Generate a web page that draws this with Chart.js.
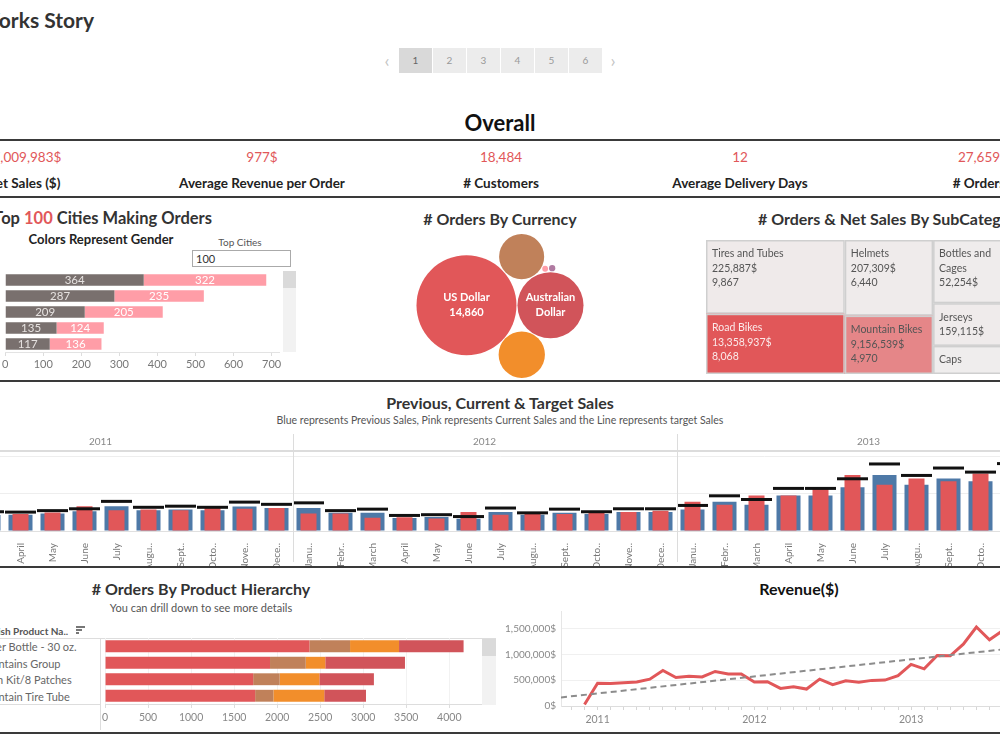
<!DOCTYPE html>
<html>
<head>
<meta charset="utf-8">
<title>AdventureWorks Story</title>
<script src="https://cdn.jsdelivr.net/npm/chart.js@4.4.1/dist/chart.umd.min.js"></script>
<style>
  html, body { margin: 0; padding: 0; width: 1000px; height: 750px; overflow: hidden; background: #fff; }
  body { position: relative; font-family: Lato, 'Open Sans', sans-serif; color: #333; }
  .a { position: absolute; white-space: nowrap; }
  .c { transform: translate(-50%, -50%); }
  .m { transform: translateY(-50%); }
  .ttl { font-weight: 700; font-size: 16px; color: #333; }
  .rule { position: absolute; left: 0; width: 1000px; height: 2px; background: #3a3a3a; }
  .page { position: absolute; top: 48px; width: 33px; height: 25px; background: #ececec; color: #999; font-size: 10px; line-height: 25px; text-align: center; }
  .kv { font-size: 13.5px; color: #e15759; }
  .kl { font-size: 13.5px; font-weight: 700; color: #222; }
  .sub { font-size: 10.5px; color: #555; }
  .rowlbl { font-size: 11px; color: #666; }
  .box { position: absolute; }
  canvas { position: absolute; }
</style>
</head>
<body>

<div class="a m" style="right:906px;top:19px;font-size:21px;font-weight:700;color:#333">AdventureWorks Story</div>
<div class="a c" style="left:387px;top:60px;font-size:18px;color:#c4c4c4">&lsaquo;</div>
<div class="page" style="left:399px;background:#d9d9d9;color:#666">1</div>
<div class="page" style="left:433px">2</div>
<div class="page" style="left:467px">3</div>
<div class="page" style="left:501px">4</div>
<div class="page" style="left:535px">5</div>
<div class="page" style="left:569px">6</div>
<div class="a c" style="left:613px;top:60px;font-size:18px;color:#c4c4c4">&rsaquo;</div>

<div class="a c" style="left:500px;top:122px;font-size:22px;font-weight:700;color:#111">Overall</div>
<div class="rule" style="top:139px"></div>
<div id="kpis"></div>
<div class="rule" style="top:196px"></div>

<!-- top row -->
<div class="a m ttl" style="right:788px;top:218px;font-size:16.5px">Top <span style="color:#e15759">100</span> Cities Making Orders</div>
<div class="a c" style="left:101px;top:239px;font-size:13px;font-weight:700;color:#222">Colors Represent Gender</div>
<div class="a c" style="left:240px;top:242px;font-size:10px;color:#555">Top Cities</div>
<div class="box" style="left:192px;top:250px;width:94px;height:15px;border:1px solid #aaa;font-size:11px;line-height:15px;padding-left:3px;color:#333">100</div>
<div class="box" style="left:283px;top:271px;width:13px;height:81px;background:#f2f2f2"></div>
<div class="box" style="left:283px;top:271px;width:13px;height:17px;background:#dadada"></div>
<canvas id="cities" width="283" height="100" style="left:0;top:272px"></canvas>

<div class="a c ttl" style="left:500px;top:218px"># Orders By Currency</div>
<canvas id="currency" width="200" height="150" style="left:400px;top:231px"></canvas>

<div class="a m ttl" style="left:758px;top:218px"># Orders &amp; Net Sales By SubCategory</div>
<canvas id="subcat" width="308" height="134" style="left:706px;top:240px"></canvas>

<div class="rule" style="top:380px"></div>

<!-- middle row -->
<div class="a c ttl" style="left:500px;top:402px">Previous, Current &amp; Target Sales</div>
<div class="a c sub" style="left:500px;top:420px">Blue represents Previous Sales, Pink represents Current Sales and the Line represents target Sales</div>
<canvas id="sales" width="1093" height="136" style="left:-46px;top:430px"></canvas>

<div class="rule" style="top:566px"></div>

<!-- bottom row -->
<div class="a c ttl" style="left:201px;top:588px"># Orders By Product Hierarchy</div>
<div class="a c" style="left:201px;top:607px;font-size:11px;color:#555">You can drill down to see more details</div>
<div class="a m" style="left:-21px;top:631px;font-size:10px;font-weight:700;color:#555">English Product Na..</div>
<div class="box" style="left:76px;top:626px;width:9px;height:1.5px;background:#777"></div>
<div class="box" style="left:76px;top:629px;width:6px;height:1.5px;background:#777"></div>
<div class="box" style="left:76px;top:632px;width:3px;height:1.5px;background:#777"></div>
<div class="box" style="left:0;top:638px;width:496px;height:1px;background:#ddd"></div>
<div class="box" style="left:0;top:704px;width:100px;height:1px;background:#ddd"></div>
<div class="box" style="left:100px;top:638px;width:1px;height:92px;background:#ddd"></div>
<div class="box" style="left:482px;top:639px;width:14px;height:66px;background:#f2f2f2"></div>
<div class="box" style="left:482px;top:639px;width:14px;height:17px;background:#dadada"></div>
<div id="prodLabels"></div>
<canvas id="product" width="383" height="88" style="left:99px;top:638px"></canvas>

<div class="a c" style="left:799px;top:588px;font-size:16px;font-weight:700;color:#111">Revenue($)</div>
<canvas id="revenue" width="560" height="128" style="left:500px;top:600px"></canvas>

<div class="rule" style="top:732px"></div>

<script>
Chart.defaults.font.family = "Lato, 'Open Sans', sans-serif";
Chart.defaults.animation = false;
Chart.defaults.responsive = false;
Chart.defaults.plugins.legend.display = false;
Chart.defaults.plugins.tooltip.enabled = false;

// ---- data ----
const kpiNames = ['Net Sales ($)', 'Average Revenue per Order', '# Customers', 'Average Delivery Days', '# Orders'];
const kpiValues = ['27,009,983$', '977$', '18,484', '12', '27,659'];

const cityNames = ['London', 'Paris', 'Bellflower', 'Burien', 'Concord'];
const maleOrders = [364, 287, 209, 135, 117];
const femaleOrders = [322, 235, 205, 124, 136];

const currencies = ['US Dollar', 'Australian Dollar', 'EURO', 'United Kingdom Pound', 'Canadian Dollar', 'Deutsche Mark'];
const currencyOrders = [14860, 6480, 3020, 3190, 50, 59];

const subcategories = ['Tires and Tubes', 'Road Bikes', 'Helmets', 'Mountain Bikes', 'Bottles and Cages', 'Jerseys', 'Caps'];
const subcatSales = [225887, 13358937, 207309, 9156539, 52254, 159115, 18113];
const subcatOrders = [9867, 8068, 6440, 4970, 4930, 3332, 2190];
const subcatColumn = [0, 0, 1, 1, 2, 2, 2];

const salesPeriods = [
  '2011-03', '2011-04', '2011-05', '2011-06', '2011-07', '2011-08', '2011-09', '2011-10', '2011-11', '2011-12',
  '2012-01', '2012-02', '2012-03', '2012-04', '2012-05', '2012-06', '2012-07', '2012-08', '2012-09', '2012-10', '2012-11', '2012-12',
  '2013-01', '2013-02', '2013-03', '2013-04', '2013-05', '2013-06', '2013-07', '2013-08', '2013-09', '2013-10', '2013-11'
];
const previousSales = [
  430000, 440000, 470000, 530000, 670000, 560000, 580000, 560000, 660000, 620000,
  620000, 490000, 490000, 350000, 380000, 330000, 510000, 440000, 490000, 460000, 510000, 510000,
  580000, 790000, 710000, 960000, 960000, 1180000, 1510000, 1250000, 1420000, 1340000, 1550000
];
const currentSales = [
  450000, 460000, 500000, 670000, 560000, 580000, 560000, 630000, 600000, 620000,
  470000, 470000, 360000, 370000, 340000, 510000, 440000, 480000, 460000, 510000, 510000, 550000,
  790000, 710000, 960000, 960000, 1150000, 1510000, 1250000, 1420000, 1340000, 1550000, 1700000
];
const targetSales = [
  520000, 510000, 550000, 600000, 800000, 640000, 670000, 640000, 780000, 720000,
  760000, 550000, 590000, 420000, 440000, 390000, 620000, 490000, 590000, 520000, 600000, 600000,
  690000, 950000, 850000, 1150000, 1150000, 1410000, 1810000, 1500000, 1700000, 1590000, 1820000
];
const monthNames = ['January', 'February', 'March', 'April', 'May', 'June', 'July', 'August', 'September', 'October', 'November', 'December'];

const productNames = ['Water Bottle - 30 oz.', 'Mountains Group', 'Patch Kit/8 Patches', 'Mountain Tire Tube'];
const prodUSD = [2375, 1917, 1721, 1744];
const prodEUR = [472, 415, 308, 212];
const prodGBP = [569, 227, 461, 591];
const prodAUD = [750, 926, 634, 485];

const revenueMonths = [
  '2010-12',
  '2011-01', '2011-02', '2011-03', '2011-04', '2011-05', '2011-06', '2011-07', '2011-08', '2011-09', '2011-10', '2011-11', '2011-12',
  '2012-01', '2012-02', '2012-03', '2012-04', '2012-05', '2012-06', '2012-07', '2012-08', '2012-09', '2012-10', '2012-11', '2012-12',
  '2013-01', '2013-02', '2013-03', '2013-04', '2013-05', '2013-06', '2013-07', '2013-08', '2013-09', '2013-10'
];
const revenueValues = [
  30000,
  440000, 434000, 452000, 465000, 520000, 688000, 551000, 576000, 564000, 669000, 620000, 620000,
  465000, 471000, 341000, 372000, 328000, 520000, 415000, 489000, 458000, 496000, 502000, 589000,
  805000, 719000, 979000, 973000, 1196000, 1530000, 1283000, 1456000, 1340000, 1550000
];

// ---- colours ----
const red = '#e15759';
const currencyColors = ['#e15759', '#d1545a', '#c0815a', '#f28e2b', '#ff9da7', '#b07aa1'];

const fmt = v => v.toLocaleString('en-US');

// fixed-step ticks from 0 (chart.js snaps big ranges to max/n otherwise)
const stepTicks = step => s => {
  const t = [];
  for (let v = 0; v <= s.max + 1e-9; v += step) t.push({ value: v });
  s.ticks = t;
};

// ---- KPI row ----
const kpiBox = document.getElementById('kpis');
kpiNames.forEach((name, i) => {
  const cx = 23 + i * 239;
  kpiBox.insertAdjacentHTML('beforeend',
    `<div class="a c kv" style="left:${cx}px;top:157px">${kpiValues[i]}</div>` +
    `<div class="a c kl" style="left:${cx}px;top:183px">${name}</div>`);
});

// ---- Top cities ----
const barLabels = {
  id: 'barLabels',
  afterDatasetsDraw(chart) {
    const ctx = chart.ctx;
    ctx.save();
    ctx.font = '11.5px Lato';
    ctx.textAlign = 'center';
    ctx.textBaseline = 'middle';
    chart.data.datasets.forEach((ds, d) => {
      chart.getDatasetMeta(d).data.forEach((el, i) => {
        ctx.fillStyle = d === 0 ? '#e6e2e0' : '#ffffff';
        ctx.fillText(ds.data[i], (el.x + el.base) / 2, el.y + 0.5);
      });
    });
    ctx.restore();
  }
};

new Chart(document.getElementById('cities'), {
  type: 'bar',
  data: {
    labels: cityNames,
    datasets: [
      { label: 'Male', data: maleOrders, backgroundColor: '#79706e' },
      { label: 'Female', data: femaleOrders, backgroundColor: '#ff9da7' }
    ]
  },
  options: {
    indexAxis: 'y',
    layout: { padding: 0 },
    datasets: { bar: { barPercentage: 0.72, categoryPercentage: 1 } },
    scales: {
      x: {
        stacked: true, min: 0, max: 720,
        afterFit: s => { s.height = 20; },
        afterBuildTicks: stepTicks(100),
        ticks: { color: '#777', font: { size: 11 }, padding: 2 },
        grid: { drawOnChartArea: false, tickLength: 4, color: '#ddd' },
        border: { color: '#e3e3e3' }
      },
      y: { stacked: true, display: false }
    }
  },
  plugins: [barLabels]
});

// ---- Currency bubbles (packed) ----
const bubbleR = currencyOrders.map(v => 50 * Math.sqrt(v / currencyOrders[0]));

function tangent(a, b, r, away) {
  const gap = 1;
  const dx = b.x - a.x, dy = b.y - a.y, d = Math.hypot(dx, dy);
  const ra = a.r + r + gap, rb = b.r + r + gap;
  const l = (ra * ra - rb * rb + d * d) / (2 * d);
  const h = Math.sqrt(Math.max(ra * ra - l * l, 0));
  const ux = dx / d, uy = dy / d;
  const p1 = { x: a.x + ux * l - uy * h, y: a.y + uy * l + ux * h, r };
  const p2 = { x: a.x + ux * l + uy * h, y: a.y + uy * l - ux * h, r };
  const d1 = Math.hypot(p1.x - away.x, p1.y - away.y);
  const d2 = Math.hypot(p2.x - away.x, p2.y - away.y);
  return d1 > d2 ? p1 : p2;
}

const packed = [];
packed[0] = { x: 0, y: 0, r: bubbleR[0] };
packed[1] = { x: bubbleR[0] + bubbleR[1] + 1, y: 0, r: bubbleR[1] };
packed[2] = tangent(packed[0], packed[1], bubbleR[2], { x: 0, y: -1000 });
packed[3] = tangent(packed[0], packed[1], bubbleR[3], { x: 0, y: 1000 });
packed[4] = tangent(packed[2], packed[1], bubbleR[4], packed[0]);
packed[5] = tangent(packed[4], packed[1], bubbleR[5], packed[2]);
const bx0 = Math.min(...packed.map(p => p.x - p.r)), bx1 = Math.max(...packed.map(p => p.x + p.r));
const by0 = Math.min(...packed.map(p => p.y - p.r)), by1 = Math.max(...packed.map(p => p.y + p.r));
const bubblePoints = packed.map(p => ({ x: p.x - (bx0 + bx1) / 2, y: p.y - (by0 + by1) / 2, r: p.r }));

const bubbleLabels = {
  id: 'bubbleLabels',
  afterDatasetsDraw(chart) {
    const ctx = chart.ctx;
    ctx.save();
    ctx.font = 'bold 11px Lato';
    ctx.fillStyle = '#fff';
    ctx.textAlign = 'center';
    ctx.textBaseline = 'middle';
    chart.getDatasetMeta(0).data.forEach((el, i) => {
      let lines = [];
      if (bubbleR[i] > 40) lines = [currencies[i], fmt(currencyOrders[i])];
      else if (bubbleR[i] > 30) lines = currencies[i].split(' ');
      lines.forEach((t, k) => ctx.fillText(t, el.x, el.y + (k - (lines.length - 1) / 2) * 15));
    });
    ctx.restore();
  }
};

new Chart(document.getElementById('currency'), {
  type: 'bubble',
  data: {
    datasets: [{
      label: '# Orders',
      data: bubblePoints,
      backgroundColor: currencyColors,
      borderWidth: 0,
      clip: false
    }]
  },
  options: {
    layout: { padding: 0, autoPadding: false },
    scales: {
      x: { display: false, min: -100, max: 100 },
      y: { display: false, min: -75, max: 75 }
    }
  },
  plugins: [bubbleLabels]
});

// ---- SubCategory treemap ----
function wrapText(ctx, text, maxW) {
  const words = text.split(' ');
  const lines = [];
  let cur = '';
  words.forEach(w => {
    const t = cur ? cur + ' ' + w : w;
    if (cur && ctx.measureText(t).width > maxW) { lines.push(cur); cur = w; } else { cur = t; }
  });
  if (cur) lines.push(cur);
  return lines;
}

const treemapDraw = {
  id: 'treemapDraw',
  afterDraw(chart) {
    const { ctx, scales: { x, y } } = chart;
    const maxSales = Math.max(...subcatSales);
    const lo = [239, 237, 237], hi = [225, 87, 89];
    const cols = [];
    subcategories.forEach((n, i) => { (cols[subcatColumn[i]] = cols[subcatColumn[i]] || []).push(i); });
    ctx.save();
    ctx.font = '10.5px Lato';
    let x0 = 0;
    cols.forEach(idx => {
      const colSum = idx.reduce((s, i) => s + subcatOrders[i], 0);
      let y0 = 0;
      idx.forEach(i => {
        const frac = subcatOrders[i] / colSum;
        const left = x.getPixelForValue(x0), right = x.getPixelForValue(x0 + colSum);
        const top = y.getPixelForValue(y0), bottom = y.getPixelForValue(y0 + frac);
        const t = subcatSales[i] / maxSales;
        const rgb = lo.map((c, k) => Math.round(c + (hi[k] - c) * t));
        ctx.fillStyle = `rgb(${rgb.join(',')})`;
        ctx.fillRect(left, top, right - left, bottom - top);
        ctx.strokeStyle = '#cfcfcf';
        ctx.lineWidth = 1.5;
        ctx.strokeRect(left + 0.75, top + 0.75, right - left - 1.5, bottom - top - 1.5);
        const lines = wrapText(ctx, subcategories[i], right - left - 12)
          .concat([fmt(subcatSales[i]) + '$', fmt(subcatOrders[i])]);
        ctx.fillStyle = t > 0.8 ? '#fbeaea' : '#555';
        ctx.textBaseline = 'middle';
        lines.forEach((txt, k) => {
          const cy = 14 + k * 14.5;
          if (cy + 8 <= bottom - top) ctx.fillText(txt, left + 6, top + cy);
        });
        y0 += frac;
      });
      x0 += colSum;
    });
    ctx.restore();
  }
};

new Chart(document.getElementById('subcat'), {
  type: 'scatter',
  data: { datasets: [{ data: [] }] },
  options: {
    layout: { padding: 0 },
    scales: {
      x: { display: false, min: 0, max: subcatOrders.reduce((a, b) => a + b, 0) },
      y: { display: false, min: 0, max: 1, reverse: true }
    }
  },
  plugins: [treemapDraw]
});

// ---- Previous, current & target sales ----
const shortMonth = p => {
  const name = monthNames[Number(p.split('-')[1]) - 1];
  return name.length > 5 ? name.slice(0, 4) + '..' : name;
};

const yearHeader = {
  id: 'yearHeader',
  afterDraw(chart) {
    const { ctx, chartArea, scales: { x } } = chart;
    const step = x.getPixelForValue(1) - x.getPixelForValue(0);
    ctx.save();
    ctx.strokeStyle = '#dcdcdc';
    ctx.lineWidth = 2;
    ctx.beginPath();
    ctx.moveTo(0, chartArea.top);
    ctx.lineTo(chart.width, chartArea.top);
    ctx.stroke();
    ctx.font = '10px Lato';
    ctx.fillStyle = '#888';
    ctx.textAlign = 'center';
    ctx.textBaseline = 'middle';
    ctx.lineWidth = 1;
    const seen = {};
    salesPeriods.forEach((p, i) => {
      const [yy, mm] = p.split('-').map(Number);
      if (seen[yy]) return;
      seen[yy] = true;
      const start = x.getPixelForValue(i) - (mm - 0.5) * step;
      ctx.fillText(String(yy), start + 6 * step, chartArea.top - 9);
      if (start > chartArea.left + 1) {
        ctx.beginPath();
        ctx.moveTo(Math.round(start) + 0.5, 4);
        ctx.lineTo(Math.round(start) + 0.5, chartArea.bottom + 31);
        ctx.stroke();
      }
    });
    ctx.restore();
  }
};

new Chart(document.getElementById('sales'), {
  type: 'bar',
  data: {
    labels: salesPeriods,
    datasets: [
      {
        type: 'line', label: 'Target Sales', data: targetSales, showLine: false,
        pointStyle: 'line', pointRadius: 15.5, pointBorderWidth: 3,
        borderColor: '#111', pointBorderColor: '#111', order: 0
      },
      {
        label: 'Current Sales', data: currentSales, backgroundColor: red,
        barPercentage: 0.5, categoryPercentage: 1, grouped: false, order: 1
      },
      {
        label: 'Previous Sales', data: previousSales, backgroundColor: '#4e79a7',
        barPercentage: 0.75, categoryPercentage: 1, grouped: false, order: 2
      }
    ]
  },
  options: {
    layout: { padding: { top: 21, left: 0, right: 0, bottom: 0 } },
    scales: {
      x: {
        afterFit: s => { s.height = 35; },
        ticks: {
          autoSkip: false, minRotation: 90, maxRotation: 90, padding: 4,
          color: '#777', font: { size: 10 },
          callback: (v, i) => shortMonth(salesPeriods[i])
        },
        grid: { display: false },
        border: { color: '#e0e0e0' }
      },
      y: {
        min: 0, max: 2160000,
        afterBuildTicks: stepTicks(1000000),
        ticks: { display: false },
        grid: { color: '#eeeeee', drawTicks: false },
        border: { display: false }
      }
    }
  },
  plugins: [yearHeader]
});

// ---- Orders by product hierarchy ----
const prodChart = new Chart(document.getElementById('product'), {
  type: 'bar',
  data: {
    labels: productNames,
    datasets: [
      { label: 'US Dollar', data: prodUSD, backgroundColor: currencyColors[0] },
      { label: 'EURO', data: prodEUR, backgroundColor: currencyColors[2] },
      { label: 'United Kingdom Pound', data: prodGBP, backgroundColor: currencyColors[3] },
      { label: 'Australian Dollar', data: prodAUD, backgroundColor: currencyColors[1] }
    ]
  },
  options: {
    indexAxis: 'y',
    layout: { padding: 0 },
    datasets: { bar: { barPercentage: 0.72, categoryPercentage: 1 } },
    scales: {
      x: {
        stacked: true, min: 0, max: 4380,
        afterFit: s => { s.height = 22; },
        afterBuildTicks: stepTicks(500),
        ticks: { color: '#888', font: { size: 10.5 }, padding: 3, maxRotation: 0, callback: v => String(v) },
        grid: { color: '#f2f2f2', tickLength: 4, tickColor: '#ddd' },
        border: { color: '#ddd' }
      },
      y: { stacked: true, display: false }
    }
  }
});

const prodLabels = document.getElementById('prodLabels');
productNames.forEach((name, i) => {
  const py = 638 + prodChart.scales.y.getPixelForValue(i);
  prodLabels.insertAdjacentHTML('beforeend',
    `<div class="a m rowlbl" style="left:-24px;top:${py}px">${name}</div>`);
});

// ---- Revenue ----
const monthIndex = p => { const [yy, mm] = p.split('-').map(Number); return (yy - 2011) * 12 + mm - 1; };
const revPoints = revenueMonths.map((p, i) => ({ x: monthIndex(p), y: revenueValues[i] }));

// least-squares trend over the revenue series
const n = revPoints.length;
const mx = revPoints.reduce((s, p) => s + p.x, 0) / n;
const my = revPoints.reduce((s, p) => s + p.y, 0) / n;
const slope = revPoints.reduce((s, p) => s + (p.x - mx) * (p.y - my), 0) /
              revPoints.reduce((s, p) => s + (p.x - mx) ** 2, 0);
const xMin = -2.8, xMax = 35.4;
const trendPoints = [xMin, xMax].map(x => ({ x, y: my + slope * (x - mx) }));

new Chart(document.getElementById('revenue'), {
  type: 'line',
  data: {
    datasets: [
      { label: 'Revenue', data: revPoints, borderColor: red, borderWidth: 3, pointRadius: 0, tension: 0, order: 1 },
      { label: 'Trend', data: trendPoints, borderColor: '#8c8c8c', borderWidth: 2, borderDash: [6, 4], pointRadius: 0, order: 0 }
    ]
  },
  options: {
    layout: { padding: { top: 7, left: 0, right: 0, bottom: 0 } },
    scales: {
      x: {
        type: 'linear', min: xMin, max: xMax,
        afterFit: s => { s.height = 22; },
        ticks: {
          stepSize: 1, includeBounds: false, autoSkip: false, maxTicksLimit: 60, maxRotation: 0,
          color: '#888', font: { size: 10.5 }, padding: 3,
          callback: v => (v % 12 === 0 ? String(2011 + v / 12) : '')
        },
        grid: { drawOnChartArea: false, tickLength: 4, color: '#d6d6d6' },
        border: { color: '#ddd' }
      },
      y: {
        min: 0, max: 1840000,
        afterFit: s => { s.width = 61; },
        afterBuildTicks: stepTicks(500000),
        ticks: {
          color: '#888', font: { size: 10 }, padding: 5,
          callback: v => fmt(v) + '$'
        },
        grid: { color: '#f0f0f0', drawTicks: false },
        border: { color: '#e6e6e6' }
      }
    }
  }
});
</script>
</body>
</html>
